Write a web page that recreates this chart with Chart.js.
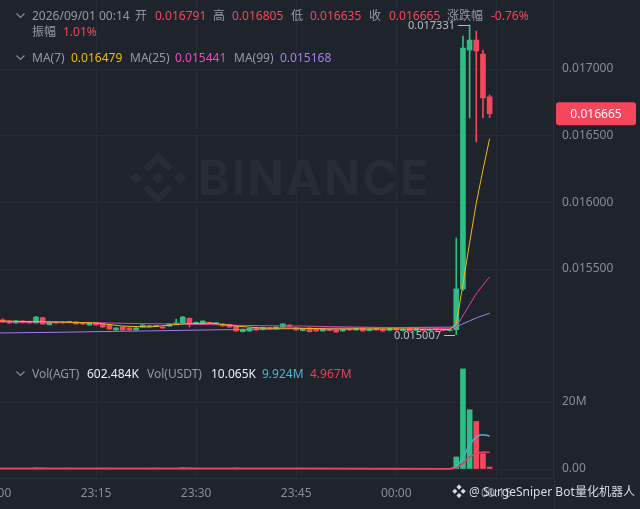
<!DOCTYPE html>
<html lang="zh-CN">
<head>
<meta charset="UTF-8">
<title>AGT/USDT 1m</title>
<script src="https://cdn.jsdelivr.net/npm/chart.js"></script>
<style>
    body {
        margin: 0;
        width: 640px;
        height: 509px;
        overflow: hidden;
        position: relative;
        background: #1f232b;
        font-family: "Noto Sans", sans-serif;
        font-size: 12px;
        color: #929aa5;
    }
    .pane { position: absolute; left: 0; width: 640px; }
    #mainBox { top: 0; height: 352px; }
    #volBox { top: 352px; height: 157px; }
    .t { position: absolute; white-space: nowrap; line-height: 16px; }
    .red { color: #f6465d; }
    .white { color: #eaecef; }
    .chev { position: absolute; width: 9px; height: 6px; }
    #wm { position: absolute; left: 128px; top: 148px; }
    #wmText {
        position: absolute; left: 198px; top: 150px;
        font-family: Inter, sans-serif; font-weight: 700; font-size: 48px;
        letter-spacing: 2px; color: #272c35; line-height: 56px;
    }
    #sig { position: absolute; left: 452px; top: 482px; font-size: 12px; color: #d9dce1; white-space: nowrap; line-height: 18px; }
    #sig b { font-weight: normal; font-size: 14px; }
    .vline { position: absolute; left: 554px; width: 1px; background: #2b3039; }
</style>
</head>
<body>
<svg id="wm" width="60" height="60" viewBox="0 0 126 126">
    <g fill="#272c35">
        <path d="M63 8 L95 40 L85 50 L63 28 L41 50 L31 40 Z"/>
        <path d="M63 118 L95 86 L85 76 L63 98 L41 76 L31 86 Z"/>
        <path d="M4 63 L17 50 L30 63 L17 76 Z"/>
        <path d="M96 63 L109 50 L122 63 L109 76 Z"/>
        <path d="M63 50 L76 63 L63 76 L50 63 Z"/>
    </g>
</svg>
<div id="wmText">BINANCE</div>

<div class="pane" id="mainBox"><canvas id="mainChart"></canvas></div>
<div class="pane" id="volBox"><canvas id="volChart"></canvas></div>
<div class="vline" style="top:478px;height:31px"></div>

<!-- header -->
<svg class="chev" style="left:16px;top:13px" viewBox="0 0 9 6"><path d="M0.5 0.5 L4.5 4.5 L8.5 0.5" stroke="#848e9c" fill="none" stroke-width="1.2"/></svg>
<span class="t" style="left:32px;top:8px">2026/09/01 00:14</span>
<span class="t" style="left:135px;top:8px">开</span>
<span class="t red" style="left:155px;top:8px">0.016791</span>
<span class="t" style="left:213px;top:8px">高</span>
<span class="t red" style="left:232px;top:8px">0.016805</span>
<span class="t" style="left:291px;top:8px">低</span>
<span class="t red" style="left:310px;top:8px">0.016635</span>
<span class="t" style="left:369px;top:8px">收</span>
<span class="t red" style="left:389px;top:8px">0.016665</span>
<span class="t" style="left:447px;top:8px">涨跌幅</span>
<span class="t red" style="left:491px;top:8px">-0.76%</span>
<span class="t" style="left:32px;top:24px">振幅</span>
<span class="t red" style="left:63px;top:24px">1.01%</span>

<svg class="chev" style="left:16px;top:55px" viewBox="0 0 9 6"><path d="M0.5 0.5 L4.5 4.5 L8.5 0.5" stroke="#848e9c" fill="none" stroke-width="1.2"/></svg>
<span class="t" style="left:32px;top:50px">MA(7)</span>
<span class="t" style="left:71px;top:50px;color:#f0b90b">0.016479</span>
<span class="t" style="left:130px;top:50px">MA(25)</span>
<span class="t" style="left:175px;top:50px;color:#eb4fb8">0.015441</span>
<span class="t" style="left:234px;top:50px">MA(99)</span>
<span class="t" style="left:280px;top:50px;color:#a77ff0">0.015168</span>

<svg class="chev" style="left:16px;top:371px" viewBox="0 0 9 6"><path d="M0.5 0.5 L4.5 4.5 L8.5 0.5" stroke="#848e9c" fill="none" stroke-width="1.2"/></svg>
<span class="t" style="left:32px;top:366px">Vol(AGT)</span>
<span class="t white" style="left:87px;top:366px">602.484K</span>
<span class="t" style="left:147px;top:366px">Vol(USDT)</span>
<span class="t white" style="left:211px;top:366px">10.065K</span>
<span class="t" style="left:262px;top:366px;color:#45b8d0">9.924M</span>
<span class="t" style="left:310px;top:366px;color:#e8405e">4.967M</span>

<div id="sig"><b>❖</b> @ SurgeSniper Bot量化机器人</div>

<script>
// 1m candles, 23:00 -> 00:14
const opens = [
    0.015118, 0.015118, 0.015110, 0.015095, 0.015110, 0.015108, 0.015095, 0.015135, 0.015082, 0.015095,
    0.015096, 0.015100, 0.015103, 0.015095, 0.015080, 0.015095, 0.015088, 0.015080, 0.015043, 0.015065,
    0.015058, 0.015043, 0.015065, 0.015068, 0.015070, 0.015065, 0.015072, 0.015088, 0.015095, 0.015130,
    0.015088, 0.015090, 0.015100, 0.015090, 0.015088, 0.015085, 0.015073, 0.015030, 0.015035, 0.015058,
    0.015045, 0.015060, 0.015050, 0.015065, 0.015080, 0.015058, 0.015038, 0.015058, 0.015050, 0.015035,
    0.015048, 0.015043, 0.015035, 0.015050, 0.015043, 0.015055, 0.015038, 0.015055, 0.015050, 0.015040,
    0.015055, 0.015038, 0.015055, 0.015040, 0.015050, 0.015040, 0.015055, 0.015050, 0.015038, 0.015045,
    0.015351, 0.017142, 0.017217, 0.017112, 0.016791
];
const highs = [
    0.015125, 0.015128, 0.015113, 0.015115, 0.015112, 0.015110, 0.015145, 0.015138, 0.015105, 0.015104,
    0.015106, 0.015103, 0.015105, 0.015097, 0.015097, 0.015097, 0.015090, 0.015082, 0.015060, 0.015067,
    0.015060, 0.015060, 0.015082, 0.015077, 0.015075, 0.015067, 0.015090, 0.015125, 0.015145, 0.015133,
    0.015103, 0.015112, 0.015102, 0.015100, 0.015090, 0.015087, 0.015075, 0.015050, 0.015057, 0.015065,
    0.015065, 0.015062, 0.015067, 0.015090, 0.015082, 0.015060, 0.015052, 0.015060, 0.015052, 0.015052,
    0.015050, 0.015045, 0.015050, 0.015052, 0.015057, 0.015057, 0.015052, 0.015057, 0.015052, 0.015057,
    0.015057, 0.015052, 0.015057, 0.015057, 0.015052, 0.015050, 0.015057, 0.015052, 0.015050, 0.015733,
    0.017247, 0.017331, 0.017285, 0.017142, 0.016805
];
const lows = [
    0.015098, 0.015100, 0.015090, 0.015092, 0.015095, 0.015092, 0.015093, 0.015085, 0.015080, 0.015093,
    0.015094, 0.015097, 0.015086, 0.015085, 0.015078, 0.015078, 0.015062, 0.015046, 0.015040, 0.015040,
    0.015041, 0.015041, 0.015063, 0.015066, 0.015068, 0.015055, 0.015070, 0.015086, 0.015093, 0.015065,
    0.015086, 0.015088, 0.015088, 0.015088, 0.015070, 0.015062, 0.015032, 0.015028, 0.015033, 0.015040,
    0.015043, 0.015048, 0.015048, 0.015063, 0.015066, 0.015040, 0.015036, 0.015027, 0.015033, 0.015033,
    0.015036, 0.015025, 0.015033, 0.015041, 0.015041, 0.015033, 0.015036, 0.015041, 0.015033, 0.015038,
    0.015041, 0.015036, 0.015033, 0.015038, 0.015036, 0.015038, 0.015041, 0.015036, 0.015036, 0.015007,
    0.015340, 0.016633, 0.016453, 0.016633, 0.016635
];
const closes = [
    0.015103, 0.015103, 0.015095, 0.015110, 0.015097, 0.015095, 0.015140, 0.015088, 0.015102, 0.015102,
    0.015103, 0.015100, 0.015088, 0.015088, 0.015095, 0.015080, 0.015065, 0.015050, 0.015058, 0.015043,
    0.015043, 0.015058, 0.015080, 0.015075, 0.015073, 0.015058, 0.015088, 0.015095, 0.015140, 0.015088,
    0.015100, 0.015110, 0.015090, 0.015098, 0.015073, 0.015065, 0.015035, 0.015048, 0.015055, 0.015043,
    0.015063, 0.015050, 0.015065, 0.015088, 0.015068, 0.015043, 0.015050, 0.015030, 0.015035, 0.015050,
    0.015038, 0.015028, 0.015048, 0.015043, 0.015055, 0.015035, 0.015050, 0.015043, 0.015035, 0.015055,
    0.015043, 0.015050, 0.015035, 0.015055, 0.015038, 0.015048, 0.015043, 0.015038, 0.015045, 0.015351,
    0.017157, 0.017217, 0.017135, 0.016783, 0.016665
];
// volume in millions of AGT
const volumes = [
    0.21, 0.15, 0.12, 0.18, 0.10, 0.14, 0.35, 0.28, 0.16, 0.09,
    0.11, 0.07, 0.13, 0.10, 0.12, 0.15, 0.19, 0.24, 0.17, 0.14,
    0.11, 0.13, 0.18, 0.09, 0.08, 0.10, 0.16, 0.22, 0.38, 0.31,
    0.14, 0.17, 0.11, 0.09, 0.13, 0.15, 0.26, 0.19, 0.14, 0.12,
    0.13, 0.10, 0.11, 0.20, 0.14, 0.16, 0.12, 0.18, 0.10, 0.09,
    0.11, 0.14, 0.10, 0.08, 0.09, 0.12, 0.10, 0.09, 0.11, 0.10,
    0.08, 0.09, 0.11, 0.10, 0.09, 0.12, 0.10, 0.13, 0.15, 3.6,
    29.9, 17.7, 14.2, 4.6, 0.602484
];

// moving averages, read at these minutes
const maX  = [0, 10, 15, 19, 23, 28, 32, 36, 40, 45, 50, 60, 68, 69, 70, 71, 72, 73, 74];
const ma7  = [0.015110, 0.015102, 0.015095, 0.015072, 0.015065, 0.015088, 0.015095, 0.015072, 0.015057, 0.015057,
              0.015050, 0.015050, 0.015046, 0.015086, 0.015387, 0.015697, 0.015995, 0.016243, 0.016479];
const ma25 = [0.015105, 0.015100, 0.015097, 0.015093, 0.015090, 0.015087, 0.015083, 0.015078, 0.015075, 0.015073,
              0.015068, 0.015060, 0.015055, 0.015066, 0.015150, 0.015233, 0.015314, 0.015380, 0.015441];
const ma99 = [0.015020, 0.015026, 0.015030, 0.015033, 0.015036, 0.015040, 0.015043, 0.015046, 0.015049, 0.015053,
              0.015056, 0.015061, 0.015064, 0.015067, 0.015089, 0.015111, 0.015133, 0.015151, 0.015168];

const volMaX  = [0, 20, 40, 60, 68, 69, 70, 71, 72, 73, 74];
const volMa5  = [0.16, 0.18, 0.15, 0.11, 0.11, 0.8, 3.3, 7.2, 9.5, 10.2, 9.924];
const volMa10 = [0.15, 0.17, 0.16, 0.12, 0.11, 0.4, 1.7, 3.6, 4.6, 5.1, 4.967];

const priceTicks = [0.0155, 0.016, 0.0165, 0.017];
const timeTicks = [0, 15, 30, 45, 60, 75];
const timeLabels = ['23:00', '23:15', '23:30', '23:45', '00:00', '00:15'];
const volTicks = [0, 20];
const volTickLabels = ['0.00', '20M'];

const UP = '#2ebd85';
const DOWN = '#f6465d';
const GRID = '#272c34';
const AXIS_W = 87;

Chart.defaults.font.family = "'Noto Sans', sans-serif";
Chart.defaults.font.size = 12;
Chart.defaults.color = '#848e9c';

function candleColor(i) {
    return closes[i] >= opens[i] ? UP : DOWN;
}

const xCommon = {
    type: 'linear',
    min: 0.6,
    max: 83.5,
    offset: false,
    afterBuildTicks: s => { s.ticks = timeTicks.map(v => ({ value: v })); },
    grid: { color: GRID, drawTicks: false, offset: false }
};

function fitY(s) {
    s.width = AXIS_W;
    s.paddingTop = 0;
    s.paddingBottom = 0;
}

// high / low markers and last price tag
const markers = {
    id: 'markers',
    afterDraw(chart) {
        const ctx = chart.ctx;
        const x = chart.scales.x, y = chart.scales.y;
        let hi = 0, lo = 0;
        highs.forEach((v, i) => { if (v > highs[hi]) hi = i; });
        lows.forEach((v, i) => { if (v < lows[lo]) lo = i; });
        ctx.save();
        ctx.font = "11px 'Noto Sans', sans-serif";
        ctx.fillStyle = '#b7bdc6';
        ctx.strokeStyle = '#b7bdc6';
        ctx.lineWidth = 1;
        ctx.textAlign = 'right';
        ctx.textBaseline = 'middle';
        [[hi, highs[hi]], [lo, lows[lo]]].forEach(([i, v]) => {
            const px = Math.round(x.getPixelForValue(i));
            const py = Math.round(y.getPixelForValue(v)) + 0.5;
            ctx.beginPath();
            ctx.moveTo(px - 12, py);
            ctx.lineTo(px - 1, py);
            ctx.stroke();
            ctx.fillText(v.toFixed(6), px - 15, py);
        });
        // last price box
        const last = closes[closes.length - 1];
        const ly = y.getPixelForValue(last);
        ctx.fillStyle = DOWN;
        ctx.beginPath();
        ctx.roundRect(556, ly - 11.5, 80, 23, 3);
        ctx.fill();
        ctx.fillStyle = '#ffffff';
        ctx.textAlign = 'center';
        ctx.font = "12px 'Noto Sans', sans-serif";
        ctx.fillText(last.toFixed(6), 596, ly + 0.5);
        ctx.restore();
    }
};

new Chart(document.getElementById('mainChart'), {
    type: 'bar',
    data: {
        datasets: [
            {
                type: 'line', label: 'MA(7)', order: 0,
                data: maX.map((m, i) => ({ x: m, y: ma7[i] })),
                borderColor: '#f0b90b', borderWidth: 1, pointRadius: 0
            },
            {
                type: 'line', label: 'MA(25)', order: 0,
                data: maX.map((m, i) => ({ x: m, y: ma25[i] })),
                borderColor: '#e43fb1', borderWidth: 1, pointRadius: 0
            },
            {
                type: 'line', label: 'MA(99)', order: 0,
                data: maX.map((m, i) => ({ x: m, y: ma99[i] })),
                borderColor: '#9f7de8', borderWidth: 1, pointRadius: 0
            },
            {
                label: 'wick', order: 2, grouped: false,
                data: closes.map((c, i) => ({ x: i, y: [lows[i], highs[i]] })),
                backgroundColor: c => candleColor(c.dataIndex),
                barThickness: 1
            },
            {
                label: 'body', order: 1, grouped: false,
                data: closes.map((c, i) => ({ x: i, y: [opens[i], c] })),
                backgroundColor: c => candleColor(c.dataIndex),
                barThickness: 5, minBarLength: 1
            }
        ]
    },
    options: {
        responsive: true,
        maintainAspectRatio: false,
        animation: false,
        layout: { padding: 0 },
        plugins: { legend: { display: false }, tooltip: { enabled: false } },
        scales: {
            x: Object.assign({}, xCommon, {
                ticks: { display: false },
                border: { display: true, color: '#2b3039' },
                afterFit: s => { s.height = 0; s.paddingLeft = 0; s.paddingRight = 0; }
            }),
            y: {
                type: 'linear',
                position: 'right',
                min: 0.0148776,
                max: 0.0175175,
                afterBuildTicks: s => { s.ticks = priceTicks.map(v => ({ value: v })); },
                afterFit: fitY,
                ticks: { padding: 9, callback: v => v.toFixed(6) },
                grid: { color: GRID, drawTicks: false },
                border: { display: true, color: '#2b3039' }
            }
        }
    },
    plugins: [markers]
});

new Chart(document.getElementById('volChart'), {
    type: 'bar',
    data: {
        datasets: [
            {
                type: 'line', label: 'MA10', order: 0,
                data: volMaX.map((m, i) => ({ x: m, y: volMa10[i] })),
                borderColor: '#e8405e', borderWidth: 1.5, pointRadius: 0,
                cubicInterpolationMode: 'monotone'
            },
            {
                type: 'line', label: 'MA5', order: 0,
                data: volMaX.map((m, i) => ({ x: m, y: volMa5[i] })),
                borderColor: '#45b8d0', borderWidth: 1.5, pointRadius: 0,
                cubicInterpolationMode: 'monotone'
            },
            {
                label: 'Vol', order: 1,
                data: volumes.map((v, i) => ({ x: i, y: v })),
                backgroundColor: c => candleColor(c.dataIndex),
                barThickness: 5
            }
        ]
    },
    options: {
        responsive: true,
        maintainAspectRatio: false,
        animation: false,
        layout: { padding: 0 },
        plugins: { legend: { display: false }, tooltip: { enabled: false } },
        scales: {
            x: Object.assign({}, xCommon, {
                ticks: {
                    padding: 8, autoSkip: false, maxRotation: 0,
                    callback: (v, i) => timeLabels[i]
                },
                border: { display: true, color: '#2b3039' },
                afterFit: s => { s.height = 31; s.paddingLeft = 0; s.paddingRight = 0; }
            }),
            y: {
                type: 'linear',
                position: 'right',
                min: -2.68,
                max: 34.93,
                afterBuildTicks: s => { s.ticks = volTicks.map(v => ({ value: v })); },
                afterFit: fitY,
                ticks: { padding: 9, callback: (v, i) => volTickLabels[i] },
                grid: { color: GRID, drawTicks: false },
                border: { display: true, color: '#2b3039' }
            }
        }
    }
});
</script>
</body>
</html>
